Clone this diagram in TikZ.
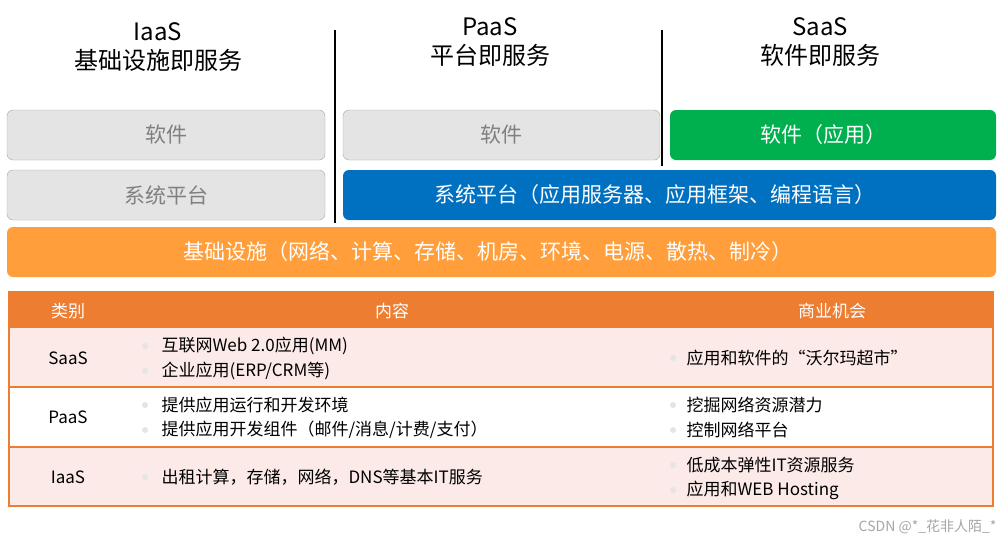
\documentclass[tikz,border=0pt]{standalone}
\usepackage{fontspec}
\setmainfont{Noto Sans CJK SC}
\definecolor{org}{HTML}{ED7D31}
\definecolor{bor}{HTML}{FF9E3A}
\definecolor{grn}{HTML}{00B04F}
\definecolor{blu}{HTML}{0070C0}
\definecolor{gbox}{HTML}{E4E4E4}
\definecolor{pink}{HTML}{FBEAE7}
\begin{document}
\begin{tikzpicture}[x=1pt,y=-1pt,
  hdr/.style={font=\fontsize{24}{29}\selectfont,align=center,text=black},
  box/.style={rounded corners=6pt},
  gb/.style={box,fill=gbox,draw=gray!70},
  bt/.style={font=\fontsize{21}{24}\selectfont},
  th/.style={font=\fontsize{17}{20}\selectfont,text=white},
  td/.style={font=\fontsize{17}{20}\selectfont,text=black,anchor=west},
  dot/.style={circle,fill=gray!20,inner sep=0pt,minimum size=6pt}]
\useasboundingbox (0,0) rectangle (1008,547);
\fill[white] (0,0) rectangle (1008,547);
\node[hdr] (h1) at (158,47) {IaaS\\基础设施即服务};
\node[hdr] (h2) at (490,42) {PaaS\\平台即服务};
\node[hdr] (h3) at (820,42) {SaaS\\软件即服务};
\draw[line width=2pt] (335,30) -- (335,223);
\draw[line width=2pt] (662,30) -- (662,166);
\path[gb] (7,110) rectangle (325,160);
\node[bt,text=gray] (s1) at (166,135) {软件};
\path[gb] (7,170) rectangle (325,220);
\node[bt,text=gray] (p1) at (166,195) {系统平台};
\path[gb] (343,110) rectangle (660,160);
\node[bt,text=gray] (s2) at (501,135) {软件};
\path[box,fill=grn] (670,110) rectangle (996,160);
\node[bt,text=white] (s3) at (823,135) {软件（应用）};
\path[box,fill=blu] (343,170) rectangle (996,220);
\node[bt,text=white] (p2) at (655,195) {系统平台（应用服务器、应用框架、编程语言）};
\path[box,fill=bor] (7,227) rectangle (996,277);
\node[bt,text=white] (i1) at (488,252) {基础设施（网络、计算、存储、机房、环境、电源、散热、制冷）};
% table
\fill[org] (9,292) rectangle (993,328);
\fill[pink] (9,328) rectangle (993,387);
\fill[pink] (9,447) rectangle (993,506);
\draw[org,line width=2pt] (9,292) rectangle (993,506);
\draw[org,line width=2pt] (9,387) -- (993,387) (9,447) -- (993,447);
\node[th] (c1) at (68,311) {类别};
\node[th] (c2) at (392,311) {内容};
\node[th] (c3) at (832,311) {商业机会};
\node[td,anchor=center] (r1) at (68,358) {SaaS};
\node[td,anchor=center] (r2) at (68,417) {PaaS};
\node[td,anchor=center] (r3) at (68,477) {IaaS};
\foreach \y/\t in {346/{互联网Web 2.0应用(MM)},371/{企业应用(ERP/CRM等)},405/{提供应用运行和开发环境},430/{提供应用开发组件（邮件/消息/计费/支付）},477/{出租计算，存储，网络，DNS等基本IT服务}}{
  \node[dot] at (145,\y) {};
  \node[td] at (158,\y) {\t};}
\foreach \y/\t in {358/{应用和软件的“沃尔玛超市”},405/{挖掘网络资源潜力},430/{控制网络平台},465/{低成本弹性IT资源服务},490/{应用和WEB Hosting}}{
  \node[dot] at (673,\y) {};
  \node[td] at (683,\y) {\t};}
\node[text=gray!70,font=\fontsize{14}{16}\selectfont,anchor=east] (wm) at (1000,527) {CSDN @*\_花非人陌\_*};
\end{tikzpicture}
\end{document}
